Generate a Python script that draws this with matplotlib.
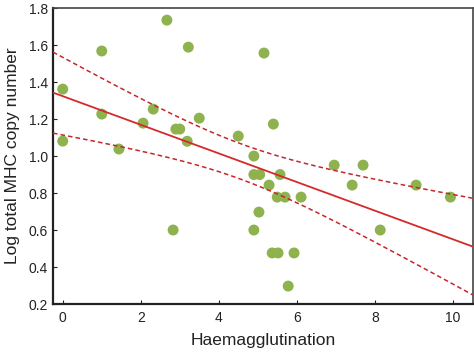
import numpy as np
import matplotlib
matplotlib.use("Agg")
import matplotlib.pyplot as plt

plt.rcParams['font.family'] = ['Liberation Sans', 'DejaVu Sans']

haemagglutination = [0, 0, 1, 1, 1.44, 2.06, 2.32, 2.67, 2.83, 2.9, 3.0, 3.22, 3.19, 3.5,
                     4.5, 4.9, 4.9, 5.05, 4.9, 5.03, 5.16, 5.4, 5.29, 5.37, 5.52, 5.57,
                     5.5, 5.7, 5.78, 5.93, 6.11, 6.96, 7.42, 7.7, 8.14, 9.06, 9.94]
log_mhc = [1.362, 1.081, 1.568, 1.227, 1.038, 1.178, 1.254, 1.735, 0.60, 1.146, 1.146, 1.589,
           1.08, 1.205, 1.108, 1.0, 0.9, 0.9, 0.6, 0.697, 1.557, 1.173, 0.843, 0.476, 0.476,
           0.9, 0.778, 0.778, 0.297, 0.476, 0.778, 0.951, 0.843, 0.951, 0.60, 0.843, 0.778]

x = np.array(haemagglutination)
y = np.array(log_mhc)

fig = plt.figure(figsize=(4.74, 3.53), dpi=100)
ax = fig.add_axes([0.1118, 0.1388, 0.8862, 0.8382])

ax.scatter(x, y, s=62, color='#8db24e', edgecolors='none', zorder=3)

# linear regression with 95% confidence band
n = len(x)
b1, b0 = np.polyfit(x, y, 1)
xs = np.linspace(-0.25, 10.52, 200)
yhat = b0 + b1 * xs
resid = y - (b0 + b1 * x)
s = np.sqrt(np.sum(resid ** 2) / (n - 2))
sxx = np.sum((x - x.mean()) ** 2)
t = 2.03
se = s * np.sqrt(1 / n + (xs - x.mean()) ** 2 / sxx)
ax.plot(xs, yhat, color='#d42a2a', lw=1.3, zorder=4)
ax.plot(xs, yhat + t * se, color='#c8262a', lw=1.1, ls=(0, (3, 2)), zorder=4)
ax.plot(xs, yhat - t * se, color='#c8262a', lw=1.1, ls=(0, (3, 2)), zorder=4)

ax.set_xlim(-0.25, 10.52)
ax.set_ylim(0.2, 1.8)
ax.set_xticks([0, 2, 4, 6, 8, 10])
ax.set_yticks([0.2, 0.4, 0.6, 0.8, 1.0, 1.2, 1.4, 1.6, 1.8])
ax.set_yticklabels(['0.2', '0.4', '0.6', '0.8', '1.0', '1.2', '1.4', '1.6', '1.8'])
ax.tick_params(direction='in', length=3, labelsize=10, colors='#222222')
ax.tick_params(axis='x', pad=5)
ax.set_xlabel('Haemagglutination', fontsize=12.5, color='#222222', labelpad=6)
ax.set_ylabel('Log total MHC copy number', fontsize=12.5, color='#222222', labelpad=6)

for side in ['left', 'bottom']:
    ax.spines[side].set_linewidth(1.6)
    ax.spines[side].set_color('#222222')
for side in ['top', 'right']:
    ax.spines[side].set_linewidth(1.2)
    ax.spines[side].set_color('#444444')

fig.savefig('out.png', dpi=100)
